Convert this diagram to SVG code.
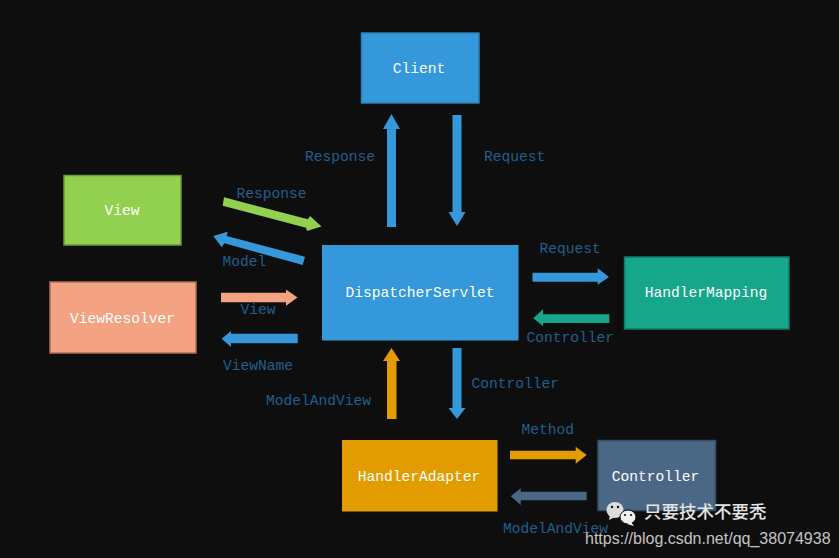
<svg xmlns="http://www.w3.org/2000/svg" width="839" height="558" viewBox="0 0 839 558">
<style>
text{font-family:"Liberation Mono","DejaVu Sans Mono",monospace;font-size:14.6px}
.n{fill:#fff;text-anchor:middle}
.l{fill:#1f608f}
.b{fill:#3498db}.g{fill:#92d14f}.s{fill:#f4a382}.t{fill:#16a689}.o{fill:#e29c00}.d{fill:#4a6785}
rect{stroke-width:1.5}
</style>
<rect width="839" height="558" fill="#0e0e0e"/>
<g id="connectors">
<polygon class="b" points="387,227 396,227 396,129 400,129 391.500,114 383,129 387,129"/>
<polygon class="b" points="452.500,115 461.500,115 461.500,212 465.500,212 457,226 448.500,212 452.500,212"/>
<polygon class="g" points="224,197.300 222.700,205.700 306,227.700 307,231 321.500,226.500 310,216 308,219.300"/>
<polygon class="b" points="305,256.700 302.700,265 224.300,243.300 221.700,247.300 213.300,236 227.700,231.700 226.700,236"/>
<polygon class="s" points="221,292.700 286,292.700 286,289.500 297.500,297.500 286,305.700 286,302.300 221,302.300"/>
<polygon class="b" points="297.700,333.700 297.700,343.300 231,343.300 231,347 221.700,338.700 231,331 231,333.700"/>
<polygon class="b" points="532.500,272.700 597.700,272.700 597.700,268.300 609,277 597.700,284.700 597.700,281.700 532.500,281.700"/>
<polygon class="t" points="609.300,314.300 609.300,323 543,323 543,326 533.300,318.300 543,309.300 543,314.300"/>
<polygon class="b" points="452.500,348 461.500,348 461.500,408 465.500,408 457,419 448.500,408 452.500,408"/>
<polygon class="o" points="387,419 396.500,419 396.500,361 400,361 391.500,348 383,361 387,361"/>
<polygon class="o" points="510,450.700 575.700,450.700 575.700,446.700 586.700,455 575.700,463.700 575.700,459.300 510,459.300"/>
<polygon class="d" points="586.700,491.700 586.700,500.300 520.700,500.300 520.700,505 510.700,496.300 520.700,488.300 520.700,491.700"/>
</g>
<g id="client"><rect class="b" x="361.500" y="33" width="117.500" height="70" stroke="#2b7fb8"/><text class="n" x="419" y="73">Client</text></g>
<g id="view"><rect class="g" x="64" y="175.500" width="117" height="69.500" stroke="#6a973d"/><text class="n" x="122" y="215">View</text></g>
<g id="viewresolver"><rect class="s" x="50" y="282" width="146" height="71" stroke="#a87059"/><text class="n" x="122.500" y="323">ViewResolver</text></g>
<g id="dispatcherservlet"><rect class="b" x="322" y="245" width="196.500" height="95.500"/><text class="n" x="420" y="297">DispatcherServlet</text></g>
<g id="handlermapping"><rect class="t" x="624.500" y="257" width="164.500" height="72" stroke="#117a66"/><text class="n" x="706" y="296.500">HandlerMapping</text></g>
<g id="handleradapter"><rect class="o" x="342" y="440" width="155.500" height="71.500"/><text class="n" x="419" y="480.500">HandlerAdapter</text></g>
<g id="controller"><rect class="d" x="598" y="440.500" width="117.500" height="70" stroke="#364d63"/><text class="n" x="655.500" y="480.500">Controller</text></g>
<g id="labels">
<text class="l" x="305" y="160.500">Response</text>
<text class="l" x="484" y="160.500">Request</text>
<text class="l" x="236.500" y="198">Response</text>
<text class="l" x="222.500" y="266">Model</text>
<text class="l" x="240.500" y="314">View</text>
<text class="l" x="223" y="369.500">ViewName</text>
<text class="l" x="539.500" y="253">Request</text>
<text class="l" x="526.500" y="342">Controller</text>
<text class="l" x="471.500" y="388">Controller</text>
<text class="l" x="266" y="405">ModelAndView</text>
<text class="l" x="521.500" y="434">Method</text>
<text class="l" x="503" y="533">ModelAndView</text>
</g>
<g id="watermark">
<ellipse cx="615" cy="510" rx="8.500" ry="8" fill="#dcdcdc"/>
<polygon points="610,515 609,520 615,517" fill="#dcdcdc"/>
<circle cx="612" cy="507" r="1.200" fill="#0e0e0e"/>
<circle cx="618" cy="507" r="1.200" fill="#0e0e0e"/>
<ellipse cx="628" cy="517" rx="8" ry="7" fill="#f0f0f0" stroke="#0e0e0e" stroke-width="1"/>
<polygon points="631,522 634,526 627,524" fill="#f0f0f0"/>
<circle cx="625" cy="515" r="1.100" fill="#0e0e0e"/>
<circle cx="631" cy="515" r="1.100" fill="#0e0e0e"/>
<text x="644" y="518" fill="#e4e4e4" style="font-family:'Noto Sans CJK SC','Noto Sans',sans-serif;font-size:17.500px;font-weight:500">只要技术不要秃</text>
<text x="585" y="544" fill="#c4c4c4" style="font-family:'Liberation Sans',Arial,sans-serif;font-size:16px">https://blog.csdn.net/qq_38074938</text>
</g>
</svg>
